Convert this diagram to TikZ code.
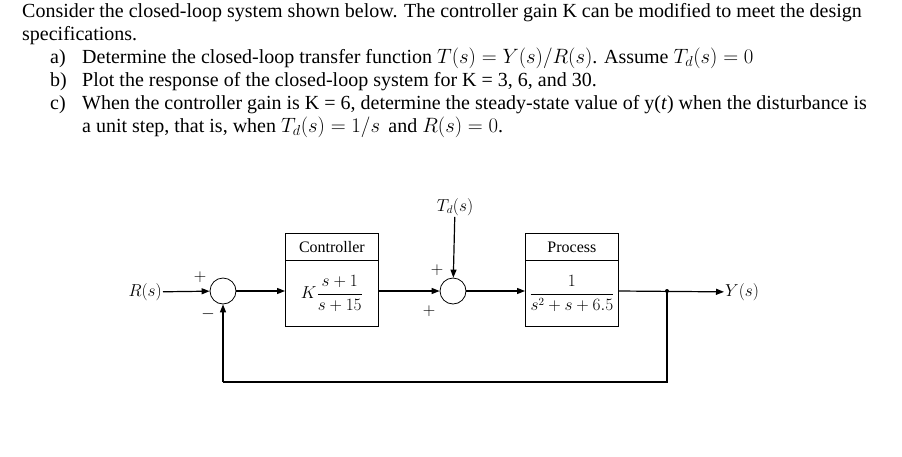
\documentclass[tikz,border=0pt]{standalone}
\usepackage{amsmath}
\usepackage{fontspec}
\setmainfont{Liberation Serif}
\usetikzlibrary{arrows.meta}
\begin{document}
\begin{tikzpicture}[x=1pt,y=-1pt,
  txt/.style={anchor=base west,inner sep=0pt,font=\fontsize{20}{22}\selectfont},
  lbl/.style={inner sep=1pt,font=\fontsize{16}{18}\selectfont},
  sig/.style={line width=1.2pt,-{Triangle[length=8pt,width=6pt]}},
  wire/.style={line width=1.2pt},
  sumc/.style={circle,draw,line width=0.8pt,minimum size=26pt,inner sep=0pt},
  blk/.style={draw,line width=0.8pt}]
\useasboundingbox (0,0) rectangle (902,456);
% text
\node[txt] (l1) at (22,17) {Consider the closed-loop system shown below. The controller gain K can be modified to meet the design};
\node[txt] (l2) at (22,40) {specifications.};
\node[txt] (a1) at (50,63) {a)};
\node[txt] (a2) at (82,63) {Determine the closed-loop transfer function $T(s)=Y(s)/R(s)$. Assume $T_d(s)=0$};
\node[txt] (b1) at (50,86) {b)};
\node[txt] (b2) at (82,86) {Plot the response of the closed-loop system for K = 3, 6, and 30.};
\node[txt] (c1) at (50,109) {c)};
\node[txt] (c2) at (82,109) {When the controller gain is K = 6, determine the steady-state value of y(\textit{t}) when the disturbance is};
\node[txt] (c3) at (82,132) {a unit step, that is, when $T_d(s)=1/s$\, and $R(s)=0$.};
% diagram
\node[sumc] (s1) at (223,291) {};
\node[sumc] (s2) at (453,291) {};
\node[blk,minimum width=93pt,minimum height=27pt,anchor=north west,lbl] (ch) at (285,233) {Controller};
\node[blk,minimum width=93pt,minimum height=66pt,anchor=north west,lbl] (cb) at (285,260) {$K\dfrac{s+1}{s+15}$};
\node[blk,minimum width=93pt,minimum height=27pt,anchor=north west,lbl] (ph) at (525,233) {Process};
\node[blk,minimum width=93pt,minimum height=66pt,anchor=north west,lbl] (pb) at (525,260) {$\dfrac{1}{s^2+s+6.5}$};
\node[lbl,anchor=east] (r) at (163,292) {$R(s)$};
\node[lbl,anchor=west] (y) at (724,292) {$Y(s)$};
\node[lbl] (td) at (455,207) {$T_d(s)$};
\coordinate (br) at (667,291);
\coordinate (fb) at (667,382);
\coordinate (fbl) at (223,382);
\draw[sig] (r) -- (s1);
\draw[sig] (s1) -- (cb.west|-s1);
\draw[sig] (cb.east|-s2) -- (s2);
\draw[sig] (td) -- (s2);
\draw[sig] (s2) -- (pb.west|-s2);
\draw[sig] (pb.east|-s2) -- (y);
\fill (br) circle (2pt);
\draw[wire] (br) -- (fb) -- (fbl);
\draw[sig] (fbl) -- (s1);
\node[lbl] (p1) at (200,277) {$+$};
\node[lbl] (m1) at (208,314) {$-$};
\node[lbl] (p2) at (437,270) {$+$};
\node[lbl] (p3) at (429,311) {$+$};
\end{tikzpicture}
\end{document}
